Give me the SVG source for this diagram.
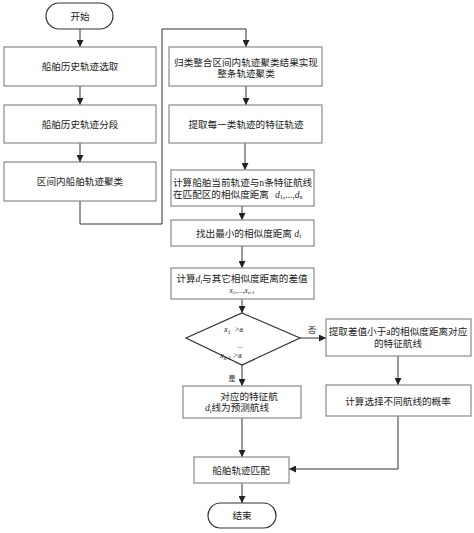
<svg xmlns="http://www.w3.org/2000/svg" width="474" height="533" viewBox="0 0 474 533">
<defs>
<style>
.box{fill:#fff;stroke:#8a8a8a;stroke-width:1.2}
.term{fill:#fff;stroke:#333;stroke-width:1.2}
.ln{fill:none;stroke:#333;stroke-width:1}
text{font-family:"Liberation Serif","Noto Sans CJK SC",serif;font-size:9.6px;fill:#222}
.c{text-anchor:middle}
.m{font-style:italic}
.s{font-size:6px}
</style>
<marker id="ah" viewBox="0 0 10 10" refX="10" refY="5" markerWidth="7" markerHeight="7" orient="auto" markerUnits="userSpaceOnUse">
<path d="M0,0 L10,5 L0,10 z" fill="#222"/>
</marker>
</defs>
<rect width="474" height="533" fill="#fff"/>
<g id="connectors">
<line class="ln" x1="80" y1="29" x2="80" y2="47" marker-end="url(#ah)"/>
<line class="ln" x1="80" y1="86" x2="80" y2="105" marker-end="url(#ah)"/>
<line class="ln" x1="80" y1="143" x2="80" y2="162" marker-end="url(#ah)"/>
<polyline class="ln" points="80,201 80,224 162,224 162,29 246,29 246,47" marker-end="url(#ah)"/>
<line class="ln" x1="246" y1="86" x2="246" y2="105" marker-end="url(#ah)"/>
<line class="ln" x1="245" y1="143" x2="245" y2="170" marker-end="url(#ah)"/>
<line class="ln" x1="242" y1="206" x2="242" y2="220" marker-end="url(#ah)"/>
<line class="ln" x1="242" y1="246" x2="242" y2="268" marker-end="url(#ah)"/>
<line class="ln" x1="242" y1="299" x2="242" y2="313" marker-end="url(#ah)"/>
<line class="ln" x1="300" y1="338" x2="326" y2="338" marker-end="url(#ah)"/>
<text x="312" y="333" class="c" style="font-size:8px">否</text>
<line class="ln" x1="242" y1="365" x2="242" y2="386" marker-end="url(#ah)"/>
<text x="232" y="381" class="c" style="font-size:7px">是</text>
<line class="ln" x1="398" y1="356" x2="398" y2="385" marker-end="url(#ah)"/>
<line class="ln" x1="242" y1="418" x2="242" y2="457" marker-end="url(#ah)"/>
<polyline class="ln" points="398,416 398,469 289,469" marker-end="url(#ah)"/>
<line class="ln" x1="242" y1="483" x2="242" y2="503" marker-end="url(#ah)"/>
</g>
<g id="start">
<rect class="term" x="46" y="3" width="67" height="26" rx="13"/>
<text x="80" y="19.5" class="c">开始</text>
</g>
<g id="n1">
<rect class="box" x="4" y="47" width="152" height="39"/>
<text x="80" y="70" class="c">船舶历史轨迹选取</text>
</g>
<g id="n2">
<rect class="box" x="4" y="105" width="152" height="38"/>
<text x="80" y="127.5" class="c">船舶历史轨迹分段</text>
</g>
<g id="n3">
<rect class="box" x="4" y="162" width="152" height="39"/>
<text x="80" y="185" class="c">区间内船舶轨迹聚类</text>
</g>
<g id="n4">
<rect class="box" x="169" y="47" width="153" height="39"/>
<text x="246" y="66" class="c">归类整合区间内轨迹聚类结果实现</text>
<text x="246" y="77" class="c">整条轨迹聚类</text>
</g>
<g id="n5">
<rect class="box" x="169" y="105" width="153" height="38"/>
<text x="246" y="127.5" class="c">提取每一类轨迹的特征轨迹</text>
</g>
<g id="n6">
<rect class="box" x="171" y="170" width="143" height="36"/>
<text x="173" y="186">计算船舶当前轨迹与n条特征航线</text>
<text x="173" y="197.5">在匹配区的相似度距离</text>
<text x="275" y="197.5"><tspan class="m">d</tspan><tspan class="s" dy="1.5">1</tspan><tspan dy="-1.5">,...,</tspan><tspan class="m">d</tspan><tspan class="s" dy="1.5">n</tspan></text>
</g>
<g id="n7">
<rect class="box" x="171" y="220" width="143" height="26"/>
<text x="196" y="236.5">找出最小的相似度距离 <tspan class="m">d</tspan><tspan class="s" dy="1.5">i</tspan></text>
</g>
<g id="n8">
<rect class="box" x="171" y="268" width="143" height="31"/>
<text x="242" y="282" class="c">计算<tspan class="m">d</tspan><tspan class="s" dy="1.5">i</tspan><tspan dy="-1.5">与其它相似度距离的差值</tspan></text>
<text x="242" y="292.5" class="c" style="font-size:7.5px"><tspan class="m">x</tspan><tspan dy="1" style="font-size:5px">1</tspan><tspan dy="-1">,...,</tspan><tspan class="m">x</tspan><tspan dy="1" style="font-size:5px">n-1</tspan></text>
</g>
<g id="n9">
<polygon class="term" points="242,313 300,338 242,365 186,338"/>
<text x="224" y="332" style="font-size:8.5px"><tspan class="m">x</tspan><tspan dy="1.5" style="font-size:5.5px">1</tspan><tspan dy="-1.5" dx="4">&gt;a</tspan></text>
<text x="240" y="348" class="c" style="font-size:8px">...</text>
<text x="220" y="358" style="font-size:8.5px"><tspan class="m">x</tspan><tspan dy="1.5" style="font-size:5.5px">n-1</tspan><tspan dy="-1.5" dx="2">&gt;a</tspan></text>
</g>
<g id="n10">
<rect class="box" x="326" y="319" width="145" height="37"/>
<text x="398" y="335" class="c">提取差值小于a的相似度距离对应</text>
<text x="398" y="346.5" class="c">的特征航线</text>
</g>
<g id="n11">
<rect class="box" x="183" y="386" width="118" height="32"/>
<text x="249" y="400" class="c">对应的特征航</text>
<text x="205" y="411"><tspan class="m">d</tspan><tspan class="s" dy="1.5">i</tspan><tspan dy="-1.5">线为预测航线</tspan></text>
</g>
<g id="n12">
<rect class="box" x="326" y="385" width="145" height="31"/>
<text x="398" y="404.5" class="c">计算选择不同航线的概率</text>
</g>
<g id="n13">
<rect class="box" x="194" y="457" width="95" height="26"/>
<text x="241" y="473.5" class="c">船舶轨迹匹配</text>
</g>
<g id="end">
<rect class="term" x="208" y="503" width="68" height="25" rx="12.5"/>
<text x="242" y="519" class="c">结束</text>
</g>
</svg>
